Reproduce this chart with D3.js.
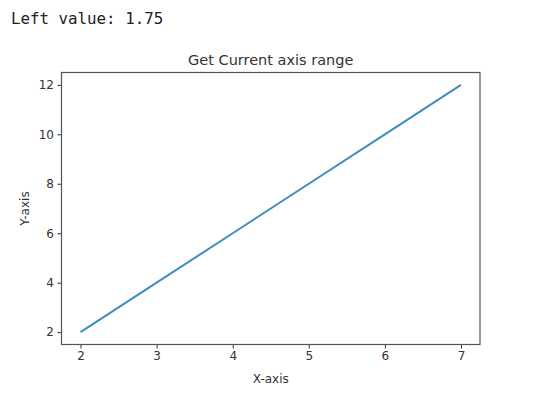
<!DOCTYPE html>
<html lang="en">
<head>
    <meta charset="UTF-8">
    <title>Get Current axis range</title>
    <script src="https://d3js.org/d3.v7.min.js"></script>
    <style>
        body { margin: 0; background: #fff; }
        svg text { font-family: "DejaVu Sans", sans-serif; }
    </style>
</head>
<body>
    <script>
        // data
        var xValues = [2, 3, 4, 5, 6, 7];
        var yValues = [2, 4, 6, 8, 10, 12];
        var xTicks = [2, 3, 4, 5, 6, 7];
        var yTicks = [2, 4, 6, 8, 10, 12];
        var xDomain = [1.75, 7.25];
        var yDomain = [1.5, 12.5];
        var outputText = "Left value: 1.75";

        var W = 533, H = 394;
        var margin = { top: 72.5, right: 53, bottom: 49.5, left: 61.5 };

        var svg = d3.select("body").append("svg")
            .attr("width", W)
            .attr("height", H);

        // printed output line
        svg.append("text")
            .attr("x", 11)
            .attr("y", 24)
            .style("font-family", "'DejaVu Sans Mono', monospace")
            .style("font-size", "15.8px")
            .attr("fill", "#222")
            .text(outputText);

        var x = d3.scaleLinear().domain(xDomain).range([margin.left, W - margin.right]);
        var y = d3.scaleLinear().domain(yDomain).range([H - margin.bottom, margin.top]);

        var line = d3.line()
            .x(function (d, i) { return x(xValues[i]); })
            .y(function (d) { return y(d); });

        svg.append("path")
            .datum(yValues)
            .attr("d", line)
            .attr("fill", "none")
            .attr("stroke", "#1f77b4")
            .attr("stroke-width", 2)
            .attr("stroke-opacity", 0.85);

        // axes
        var xAxis = svg.append("g")
            .attr("transform", "translate(0," + (H - margin.bottom) + ")")
            .call(d3.axisBottom(x).tickValues(xTicks).tickSize(4).tickPadding(3).tickFormat(d3.format("d")));
        var yAxis = svg.append("g")
            .attr("transform", "translate(" + margin.left + ",0)")
            .call(d3.axisLeft(y).tickValues(yTicks).tickSize(4).tickPadding(3.5).tickFormat(d3.format("d")));

        [xAxis, yAxis].forEach(function (g) {
            g.select(".domain").remove();
            g.selectAll(".tick line").attr("stroke", "#333");
            g.selectAll(".tick text")
                .attr("fill", "#333")
                .style("font-size", "12px")
                .style("font-family", "'DejaVu Sans', sans-serif");
        });

        // frame
        svg.append("rect")
            .attr("x", margin.left)
            .attr("y", margin.top)
            .attr("width", W - margin.left - margin.right)
            .attr("height", H - margin.top - margin.bottom)
            .attr("fill", "none")
            .attr("stroke", "#555")
            .attr("stroke-width", 1.2);

        // title and labels
        svg.append("text")
            .attr("x", (margin.left + W - margin.right) / 2)
            .attr("y", 65)
            .attr("text-anchor", "middle")
            .attr("fill", "#333")
            .style("font-size", "14.5px")
            .text("Get Current axis range");

        svg.append("text")
            .attr("x", (margin.left + W - margin.right) / 2)
            .attr("y", 383)
            .attr("text-anchor", "middle")
            .attr("fill", "#333")
            .style("font-size", "12px")
            .text("X-axis");

        svg.append("text")
            .attr("transform", "translate(29," + ((margin.top + H - margin.bottom) / 2) + ") rotate(-90)")
            .attr("text-anchor", "middle")
            .attr("fill", "#333")
            .style("font-size", "12px")
            .text("Y-axis");
    </script>
</body>
</html>
